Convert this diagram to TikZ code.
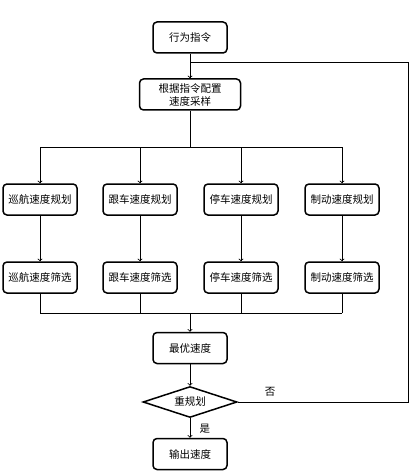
\documentclass[tikz,border=0pt]{standalone}
\usepackage{fontspec}
\newfontfamily\cjk{Noto Sans CJK SC}
\usetikzlibrary{shapes.geometric}
\begin{document}
\begin{tikzpicture}[node distance=101pt, font=\cjk\fontsize{10.5}{13}\selectfont, line width=0.8pt,
		box/.style={draw, rectangle, text centered, minimum width=74pt, minimum height=31pt, rounded corners=4pt, line width=1.5pt, inner sep=2pt},
		decision/.style={draw, diamond, aspect=3, minimum width=94pt, minimum height=31pt, inner sep=0pt, line width=1.5pt}]
	\useasboundingbox (0,0) rectangle (415pt,-476pt);

	\node (cmd) at (190pt,-37.5pt) [box] {行为指令};
	\node (sample) [below of=cmd, node distance=57pt, box, minimum width=101pt, align=center] {根据指令配置\\速度采样};

	\node (cruise) at (40pt,-199.5pt) [box] {巡航速度规划};
	\node (follow) [right of=cruise, node distance=100pt, box] {跟车速度规划};
	\node (stop) [right of=follow, box] {停车速度规划};
	\node (brake) [right of=stop, box] {制动速度规划};

	\node (cruisesel) [below of=cruise, node distance=78pt, box] {巡航速度筛选};
	\node (followsel) [below of=follow, node distance=78pt, box] {跟车速度筛选};
	\node (stopsel) [below of=stop, node distance=78pt, box] {停车速度筛选};
	\node (brakesel) [below of=brake, node distance=78pt, box] {制动速度筛选};

	\node (best) at (190pt,-348pt) [box] {最优速度};
	\node (replan) [below of=best, node distance=54pt, decision] {重规划};
	\node (out) [below of=replan, node distance=52pt, box] {输出速度};

	\coordinate (join) at (190pt,-62pt);
	\coordinate (split) at (190pt,-147pt);
	\coordinate (merge) at (190pt,-313pt);
	\coordinate (back) at (408pt,-62pt);

	\draw [->] (cmd) -- (sample);
	\draw (sample) -- (split);
	\draw (cruise.north |- split) -- (brake.north |- split);
	\foreach \plan/\sel in {cruise/cruisesel, follow/followsel, stop/stopsel, brake/brakesel} {
		\draw [->] (\plan.north |- split) -- (\plan);
		\draw [->] (\plan) -- (\sel);
		\draw (\sel) -- (\sel.south |- merge);
	}
	\draw (cruisesel.south |- merge) -- (brakesel.south |- merge);
	\draw [->] (merge) -- (best);
	\draw [->] (best) -- (replan);
	\draw [->] (replan) -- node[right, xshift=6pt, yshift=-1pt] {是} (out);
	\draw (replan) -| (back) -- (join);
	\node (no) at (270pt,-392pt) {否};
\end{tikzpicture}
\end{document}
